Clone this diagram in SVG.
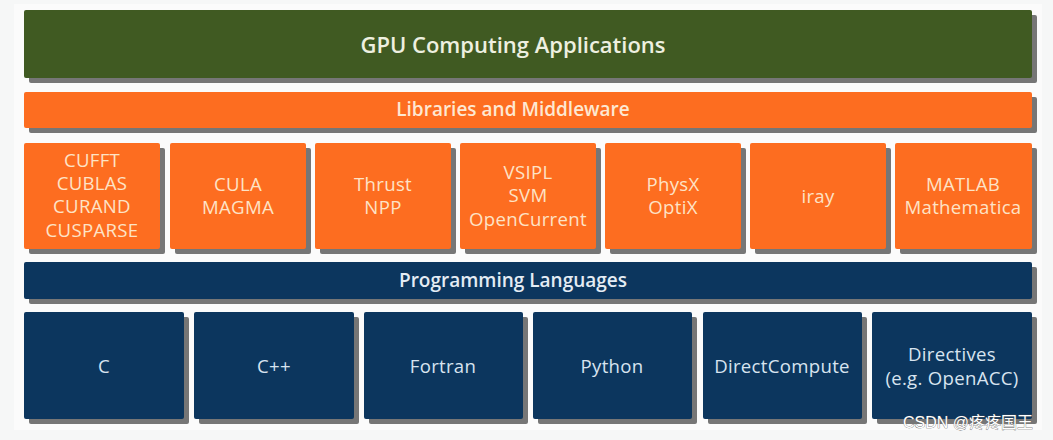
<svg xmlns="http://www.w3.org/2000/svg" width="1053" height="440" viewBox="0 0 1053 440">
<defs>
<style>
.sh{fill:#767676}
.g{fill:#405a22}
.o{fill:#fd6d20}
.n{fill:#0c365e}
text{font-family:"Open Sans","Noto Sans",sans-serif;text-anchor:middle;dominant-baseline:central}
.tg{fill:#eef0e0;font-size:22px;font-weight:600}
.tob{fill:#fde8d2;font-size:19px;font-weight:600}
.to{fill:#fde3c6;font-size:18.6px;letter-spacing:0.3px}
.tnb{fill:#e4ecf4;font-size:19px;font-weight:600}
.tn{fill:#d8e4f0;font-size:18.6px;letter-spacing:0.3px}
</style>
</defs>
<rect width="1053" height="440" fill="#f6f7f7"/>
<rect x="14" y="4" width="1028" height="426" fill="#fbfbfb"/>
<g id="gpu-apps">
<rect class="sh" x="29" y="15" width="1008" height="68" rx="2"/>
<rect class="g" x="24" y="10" width="1008" height="68" rx="2"/>
<text class="tg" x="513" y="44">GPU Computing Applications</text>
</g>
<g id="libraries">
<rect class="sh" x="29" y="97" width="1008" height="36" rx="2"/>
<rect class="o" x="24" y="92" width="1008" height="36" rx="2"/>
<text class="tob" x="513" y="109">Libraries and Middleware</text>
</g>
<g id="lib-cufft">
<rect class="sh" x="29" y="148" width="136" height="106" rx="2"/>
<rect class="o" x="24" y="143" width="136" height="106" rx="2"/>
<text class="to" x="92" y="159">CUFFT</text>
<text class="to" x="92" y="182.3">CUBLAS</text>
<text class="to" x="92" y="205.6">CURAND</text>
<text class="to" x="92" y="229">CUSPARSE</text>
</g>
<g id="lib-cula">
<rect class="sh" x="175" y="148" width="136" height="106" rx="2"/>
<rect class="o" x="170" y="143" width="136" height="106" rx="2"/>
<text class="to" x="238" y="183">CULA</text>
<text class="to" x="238" y="206.3">MAGMA</text>
</g>
<g id="lib-thrust">
<rect class="sh" x="320" y="148" width="136" height="106" rx="2"/>
<rect class="o" x="315" y="143" width="136" height="106" rx="2"/>
<text class="to" x="383" y="183">Thrust</text>
<text class="to" x="383" y="206.3">NPP</text>
</g>
<g id="lib-vsipl">
<rect class="sh" x="465" y="148" width="136" height="106" rx="2"/>
<rect class="o" x="460" y="143" width="136" height="106" rx="2"/>
<text class="to" x="528" y="171">VSIPL</text>
<text class="to" x="528" y="194.5">SVM</text>
<text class="to" x="528" y="218">OpenCurrent</text>
</g>
<g id="lib-physx">
<rect class="sh" x="610" y="148" width="136" height="106" rx="2"/>
<rect class="o" x="605" y="143" width="136" height="106" rx="2"/>
<text class="to" x="673" y="183">PhysX</text>
<text class="to" x="673" y="206.3">OptiX</text>
</g>
<g id="lib-iray">
<rect class="sh" x="755" y="148" width="136" height="106" rx="2"/>
<rect class="o" x="750" y="143" width="136" height="106" rx="2"/>
<text class="to" x="818" y="195">iray</text>
</g>
<g id="lib-matlab">
<rect class="sh" x="900" y="148" width="137" height="106" rx="2"/>
<rect class="o" x="895" y="143" width="137" height="106" rx="2"/>
<text class="to" x="963" y="183">MATLAB</text>
<text class="to" x="963" y="206.3">Mathematica</text>
</g>
<g id="prog-langs">
<rect class="sh" x="29" y="267" width="1008" height="37" rx="2"/>
<rect class="n" x="24" y="262" width="1008" height="37" rx="2"/>
<text class="tnb" x="513" y="280">Programming Languages</text>
</g>
<g id="lang-c">
<rect class="sh" x="29" y="317" width="160" height="107" rx="2"/>
<rect class="n" x="24" y="312" width="160" height="107" rx="2"/>
<text class="tn" x="104" y="365">C</text>
</g>
<g id="lang-cpp">
<rect class="sh" x="199" y="317" width="160" height="107" rx="2"/>
<rect class="n" x="194" y="312" width="160" height="107" rx="2"/>
<text class="tn" x="274" y="365">C++</text>
</g>
<g id="lang-fortran">
<rect class="sh" x="369" y="317" width="159" height="107" rx="2"/>
<rect class="n" x="364" y="312" width="159" height="107" rx="2"/>
<text class="tn" x="443" y="365">Fortran</text>
</g>
<g id="lang-python">
<rect class="sh" x="538" y="317" width="159" height="107" rx="2"/>
<rect class="n" x="533" y="312" width="159" height="107" rx="2"/>
<text class="tn" x="612" y="365">Python</text>
</g>
<g id="lang-directcompute">
<rect class="sh" x="708" y="317" width="159" height="107" rx="2"/>
<rect class="n" x="703" y="312" width="159" height="107" rx="2"/>
<text class="tn" x="782" y="365">DirectCompute</text>
</g>
<g id="lang-directives">
<rect class="sh" x="877" y="317" width="160" height="107" rx="2"/>
<rect class="n" x="872" y="312" width="160" height="107" rx="2"/>
<text class="tn" x="952" y="353">Directives</text>
<text class="tn" x="952" y="377">(e.g. OpenACC)</text>
</g>
<g id="connectors"/>
<text x="968" y="422" style="font-family:'Liberation Sans','Noto Sans CJK SC',sans-serif;font-size:16px;fill:#ffffff;stroke:#555;stroke-width:0.6;paint-order:stroke">CSDN @疼疼国王</text>
</svg>
